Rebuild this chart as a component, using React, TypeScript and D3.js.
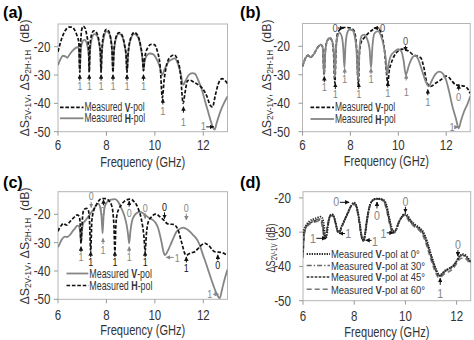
import React from 'react';
import * as d3 from 'd3';

type Pt = [number, number];
type Arrow = [number, number, number, number, string];
type Lbl = [number, number, string, string];

const xTicks = [6, 8, 10, 12];
const yTicks = [-20, -30, -40, -50];

// ---------- Panel (a) ----------
const aVpol: Pt[] = [[6.0,-21.8],[6.15,-17.2],[6.3,-14.3],[6.45,-13.1],[6.56,-13.1],[6.68,-14],[6.78,-16],[6.86,-18.5],[6.9,-29],[6.94,-18],[6.98,-14],[7.04,-12.8],[7.12,-13.5],[7.2,-16.5],[7.26,-20],[7.29,-29],[7.32,-20],[7.38,-16],[7.48,-14.4],[7.6,-15.2],[7.7,-18.5],[7.75,-22],[7.78,-29],[7.81,-22],[7.88,-16],[8.0,-13.9],[8.1,-14.6],[8.18,-17.5],[8.23,-21.5],[8.27,-29],[8.31,-21.5],[8.4,-16.5],[8.52,-15],[8.65,-16],[8.75,-19.5],[8.81,-23],[8.85,-29],[8.89,-23],[9.0,-17],[9.15,-15],[9.3,-16.2],[9.42,-20],[9.49,-24],[9.53,-28.5],[9.58,-24],[9.7,-20.5],[9.85,-19.2],[9.98,-19.3],[10.1,-21.5],[10.22,-27],[10.31,-38],[10.38,-32],[10.5,-26],[10.65,-23.5],[10.8,-22.9],[10.93,-24.5],[11.05,-29],[11.17,-40],[11.25,-36],[11.35,-32],[11.45,-31.8],[11.6,-32.5],[11.75,-33.2],[11.95,-34.6],[12.15,-37.5],[12.28,-40.6],[12.38,-41.3],[12.5,-37],[12.65,-32.5],[12.78,-31.3],[12.9,-32],[13.0,-33]];
const aHpol: Pt[] = [[6.0,-26.5],[6.1,-24.5],[6.2,-23.2],[6.3,-23.4],[6.38,-23.9],[6.5,-22.5],[6.65,-21],[6.8,-20.2],[6.86,-20.5],[6.9,-29],[6.94,-21],[7.0,-18.5],[7.08,-17.6],[7.15,-18],[7.22,-20],[7.27,-23],[7.29,-29],[7.32,-22],[7.4,-17],[7.5,-15.6],[7.6,-16],[7.7,-19],[7.75,-22.5],[7.78,-29],[7.81,-22.5],[7.9,-16.5],[8.0,-14.6],[8.1,-15.2],[8.2,-18],[8.24,-22],[8.27,-29],[8.31,-22],[8.4,-17],[8.52,-15.4],[8.65,-16.4],[8.76,-20],[8.82,-23.5],[8.85,-29],[8.89,-23.5],[9.0,-17.5],[9.15,-15.5],[9.3,-16.6],[9.42,-20.5],[9.49,-24.5],[9.53,-28.5],[9.58,-25],[9.68,-23],[9.8,-22.4],[9.92,-22.6],[10.05,-24],[10.2,-27],[10.3,-30],[10.4,-28],[10.55,-25.5],[10.7,-24.5],[10.82,-24.1],[10.95,-26],[11.08,-30],[11.17,-33.5],[11.27,-32],[11.4,-30],[11.55,-29.3],[11.65,-29.5],[11.8,-32],[11.95,-35.5],[12.06,-38.8],[12.2,-43],[12.3,-46],[12.4,-48.5],[12.47,-49.3],[12.55,-47],[12.7,-43],[12.85,-40],[13.0,-37.6]];
const aArrows: Arrow[] = [[6.9,-32,6.9,-29.9,'k'],[7.29,-32,7.29,-29.9,'k'],[7.78,-32,7.78,-29.9,'k'],[8.27,-32,8.27,-29.9,'k'],[8.85,-32,8.85,-29.9,'k'],[9.53,-32,9.53,-29.9,'k'],[10.33,-40.4,10.33,-38.4,'k'],[11.18,-43.3,11.18,-41.2,'k'],[12.12,-48.3,12.43,-48.3,'k']];
const aLabels: Lbl[] = [[6.9,-33.9,'1','g'],[7.29,-33.9,'1','g'],[7.78,-33.9,'1','g'],[8.27,-33.9,'1','g'],[8.85,-33.9,'1','g'],[9.53,-33.9,'1','g'],[10.33,-42.9,'1','g'],[11.18,-46.5,'1','g'],[12.0,-47.9,'1','g']];

// ---------- Panel (b) ----------
const bHpol: Pt[] = [[6.0,-27.1],[6.13,-24.1],[6.23,-23.2],[6.34,-23.9],[6.48,-22.7],[6.62,-20.6],[6.76,-19.4],[6.84,-20.2],[6.9,-30],[6.96,-21],[7.05,-17.8],[7.15,-17.1],[7.25,-18.5],[7.31,-22],[7.35,-31],[7.39,-22],[7.45,-17],[7.55,-15.3],[7.65,-17],[7.7,-20.5],[7.75,-27.6],[7.79,-20.5],[7.86,-15.5],[7.96,-14.1],[8.08,-14.3],[8.18,-16.5],[8.25,-21],[8.32,-32],[8.38,-21],[8.46,-16.5],[8.57,-15.9],[8.7,-17.5],[8.8,-21],[8.86,-27.6],[8.92,-20],[9.0,-15.5],[9.15,-14.7],[9.28,-16.5],[9.38,-19.5],[9.47,-24],[9.54,-30],[9.6,-26],[9.68,-23.5],[9.85,-21.8],[10.0,-21],[10.13,-21.8],[10.22,-25],[10.31,-30],[10.45,-26.5],[10.6,-23.8],[10.7,-23.3],[10.8,-24],[11.0,-28.8],[11.15,-32.5],[11.27,-34.1],[11.4,-32],[11.55,-29.8],[11.7,-28.9],[11.85,-29.5],[12.0,-32],[12.12,-35.9],[12.26,-41.2],[12.4,-45.3],[12.52,-48.8],[12.62,-46],[12.74,-43],[12.9,-40],[13.0,-37.6]];
const bVpol: Pt[] = [[6.0,-27.1],[6.13,-24.1],[6.23,-23.2],[6.34,-23.9],[6.48,-22.7],[6.62,-20.6],[6.76,-19.4],[6.84,-20.2],[6.9,-30],[6.96,-21],[7.05,-17.8],[7.15,-17.1],[7.24,-18.5],[7.3,-23],[7.35,-33],[7.4,-21],[7.45,-16],[7.55,-14.2],[7.7,-13.4],[7.85,-13.4],[8.0,-13.6],[8.12,-14.2],[8.2,-16],[8.26,-21],[8.33,-33.5],[8.38,-22],[8.45,-18.5],[8.57,-17.1],[8.75,-15.4],[8.95,-14.1],[9.1,-13.5],[9.25,-14.7],[9.35,-17.5],[9.43,-22],[9.5,-28.8],[9.56,-33],[9.62,-28.5],[9.7,-26],[9.82,-23.5],[10.0,-21.6],[10.15,-21],[10.3,-21.3],[10.45,-21.8],[10.6,-22.9],[10.8,-23.5],[10.94,-24.1],[11.07,-27.6],[11.2,-33],[11.35,-34.1],[11.55,-33],[11.77,-31.8],[12.0,-30.5],[12.1,-30.8],[12.2,-31.8],[12.4,-33.5],[12.6,-33.8],[12.8,-34.1],[12.9,-35],[13.0,-36.5]];
const bArrows: Arrow[] = [[6.91,-32.6,6.91,-30.6,'k'],[7.37,-35,7.37,-33,'k'],[7.76,-29.8,7.76,-27.8,'g'],[8.35,-35,8.35,-33,'k'],[8.86,-29.8,8.86,-27.8,'g'],[9.56,-34.5,9.56,-32.5,'k'],[10.33,-32,10.33,-30,'g'],[11.23,-37.2,11.23,-35.2,'k'],[12.52,-35.5,12.52,-33.5,'k'],[12.35,-48.4,12.5,-48.4,'g'],[7.47,-13.6,7.72,-13.6,'k'],[9.22,-13.6,8.98,-13.6,'k'],[10.3,-19.8,10.3,-21.6,'k']];
const bLabels: Lbl[] = [[6.91,-34.3,'1','g'],[7.37,-36.7,'1','g'],[7.76,-31.7,'1','g'],[8.35,-36.7,'1','g'],[8.86,-31.7,'1','g'],[9.56,-36.5,'1','g'],[10.33,-36,'1','g'],[11.23,-39.6,'1','g'],[12.52,-37.8,'0','g'],[12.24,-48.4,'1','g'],[7.36,-13.8,'0','d'],[9.34,-13.8,'0','d'],[10.3,-18.2,'0','d']];

// ---------- Panel (c) ----------
const cVpol: Pt[] = [[6.0,-31.5],[6.05,-30.8],[6.15,-29],[6.22,-28.2],[6.3,-27.9],[6.38,-28],[6.49,-27.3],[6.6,-26],[6.7,-25],[6.8,-24],[6.88,-24.5],[6.92,-27],[6.95,-30.2],[6.99,-26],[7.04,-23.2],[7.15,-22],[7.25,-20.8],[7.35,-19.6],[7.46,-18.4],[7.56,-17],[7.66,-16.2],[7.74,-17.5],[7.8,-21],[7.84,-26.7],[7.88,-21],[7.94,-17],[8.05,-15.5],[8.2,-14.8],[8.35,-14.6],[8.48,-15.5],[8.6,-17.5],[8.72,-20],[8.84,-24],[8.9,-27.5],[8.94,-30.2],[8.99,-26],[9.05,-22.6],[9.15,-20.5],[9.24,-19.6],[9.38,-19.1],[9.5,-19.5],[9.6,-20.2],[9.79,-21.4],[9.92,-22],[10.03,-23],[10.14,-25],[10.27,-29.6],[10.35,-33],[10.41,-34.4],[10.48,-33.8],[10.55,-32.6],[10.66,-30.5],[10.76,-28.5],[10.86,-26.6],[10.96,-25.5],[11.08,-24.9],[11.17,-24.7],[11.27,-25],[11.37,-25.5],[11.48,-26.4],[11.58,-27.3],[11.7,-28.4],[11.79,-29.6],[11.9,-32],[11.99,-34.4],[12.1,-37],[12.2,-39.6],[12.3,-42.2],[12.41,-44.9],[12.52,-47.5],[12.61,-49],[12.68,-49.6],[12.75,-47.5],[12.82,-44.9],[12.9,-42.3],[13.0,-39.5]];
const cHpol: Pt[] = [[6.0,-26],[6.05,-25],[6.15,-23.8],[6.22,-23.2],[6.3,-23.6],[6.36,-23.8],[6.49,-22.6],[6.6,-21.6],[6.7,-20.8],[6.8,-20.2],[6.88,-20.8],[6.92,-24],[6.95,-30.2],[6.99,-24],[7.04,-19.1],[7.12,-18],[7.18,-17.9],[7.25,-18.5],[7.3,-22],[7.35,-33],[7.4,-22],[7.46,-19.1],[7.56,-17],[7.66,-15.5],[7.76,-14.6],[7.87,-14.4],[8.0,-14.5],[8.1,-15.2],[8.2,-16.5],[8.27,-19.5],[8.31,-24],[8.35,-33],[8.39,-24],[8.44,-20],[8.53,-17.8],[8.63,-16.4],[8.74,-15.4],[8.86,-14.8],[8.96,-14.6],[9.05,-14.8],[9.15,-15.6],[9.24,-16.6],[9.33,-18.4],[9.41,-20.5],[9.5,-24.5],[9.55,-28],[9.6,-33],[9.65,-27],[9.73,-22.6],[9.83,-21.2],[9.93,-20.3],[10.02,-19.9],[10.1,-20.1],[10.2,-20.8],[10.3,-21.5],[10.4,-22.3],[10.5,-23.2],[10.62,-23.5],[10.72,-23.5],[10.82,-23.8],[10.9,-24.5],[10.98,-26],[11.06,-28.5],[11.14,-31],[11.22,-33.5],[11.3,-34.4],[11.4,-34],[11.5,-33.6],[11.65,-33.2],[11.76,-32.3],[11.86,-31.4],[11.96,-30.6],[12.06,-30.2],[12.16,-30.6],[12.27,-31.4],[12.37,-32.5],[12.47,-33.2],[12.6,-33.3],[12.7,-33.4],[12.8,-33.6],[12.9,-34],[13.0,-34.4]];
const cArrows: Arrow[] = [[6.95,-33.4,6.95,-31.4,'k'],[7.35,-35.1,7.35,-33.2,'k'],[7.86,-30.5,7.86,-28.5,'g'],[8.35,-35.1,8.35,-33.2,'k'],[8.94,-33.4,8.94,-31.4,'g'],[9.6,-35.1,9.6,-33.2,'k'],[10.78,-35.2,10.47,-35.2,'g'],[11.3,-37,11.3,-35,'k'],[12.6,-36.2,12.6,-34.3,'k'],[12.4,-48.2,12.63,-48.2,'g'],[7.37,-15.6,7.37,-17.6,'g'],[7.88,-16.8,7.88,-14.8,'k'],[8.94,-17.3,8.94,-15.3,'k'],[9.6,-19.6,9.6,-21.5,'g'],[10.4,-19.3,10.4,-21.5,'k'],[11.3,-19.8,11.3,-22,'g']];
const cLabels: Lbl[] = [[6.95,-35.2,'1','g'],[7.35,-36.8,'1','k'],[7.86,-32.5,'1','g'],[8.35,-36.8,'1','k'],[8.94,-35.2,'1','g'],[9.6,-36.8,'1','k'],[10.92,-35.6,'1','g'],[11.3,-39.2,'1','k'],[12.6,-38.1,'0','k'],[12.27,-48.2,'1','g'],[7.37,-13.7,'0','g'],[7.84,-18.8,'0','g'],[8.94,-19.6,'0','g'],[9.6,-17.7,'0','g'],[10.4,-17.4,'0','k'],[11.3,-17.7,'0','g']];

// ---------- Panel (d) ----------
const d0: Pt[] = [[6.0,-31],[6.04,-29.2],[6.12,-28],[6.25,-26.8],[6.4,-26.2],[6.55,-25.8],[6.68,-25.5],[6.76,-26],[6.82,-28],[6.87,-31.3],[6.92,-31.5],[6.97,-28.5],[7.04,-25.6],[7.12,-24.8],[7.2,-25.4],[7.28,-27.4],[7.35,-29.6],[7.42,-29.8],[7.5,-28.4],[7.62,-26.5],[7.75,-24.5],[7.88,-22.4],[7.98,-21.4],[8.06,-21.8],[8.14,-23.8],[8.22,-27.5],[8.3,-31.5],[8.37,-32.4],[8.43,-30.5],[8.5,-26.5],[8.6,-22.5],[8.72,-20.7],[8.88,-20.2],[9.05,-20.3],[9.18,-20.8],[9.27,-22.3],[9.36,-25.5],[9.46,-28.6],[9.56,-29.8],[9.64,-29.2],[9.74,-27.2],[9.86,-25.5],[9.97,-24.6],[10.07,-25],[10.2,-26.5],[10.38,-27.8],[10.55,-28.7],[10.7,-30],[10.84,-32.5],[10.98,-36],[11.1,-38.8],[11.22,-41.2],[11.33,-42.6],[11.42,-42.2],[11.55,-41.2],[11.72,-40.5],[11.9,-39.6],[12.02,-38.2],[12.12,-37],[12.24,-36.4],[12.36,-36.8],[12.47,-37.8],[12.55,-38.6]];
const d30: Pt[] = [[6.0,-34],[6.05,-30],[6.14,-28.3],[6.28,-27.2],[6.42,-26.6],[6.56,-26.3],[6.66,-26.2],[6.74,-27],[6.8,-29.5],[6.85,-31.8],[6.9,-31.2],[6.96,-28],[7.05,-25.3],[7.14,-24.6],[7.22,-25.8],[7.3,-28.2],[7.38,-30.2],[7.45,-29.6],[7.54,-28],[7.66,-26],[7.78,-24],[7.9,-22.2],[8.0,-21.6],[8.08,-22.4],[8.16,-25],[8.24,-28.8],[8.32,-32],[8.38,-32.6],[8.45,-29.6],[8.53,-25.5],[8.63,-21.9],[8.76,-20.5],[8.92,-20.3],[9.08,-20.5],[9.2,-21.3],[9.3,-23.6],[9.4,-27],[9.5,-29.4],[9.6,-30],[9.68,-28.5],[9.78,-26.6],[9.9,-25.3],[10.0,-25],[10.1,-25.6],[10.25,-27.2],[10.42,-28.3],[10.58,-29.3],[10.72,-30.8],[10.86,-33.4],[11.0,-36.8],[11.12,-39.6],[11.24,-41.8],[11.35,-42.9],[11.46,-42],[11.6,-41.2],[11.78,-40.2],[11.95,-39],[12.06,-37.6],[12.16,-36.8],[12.28,-36.6],[12.4,-37.4],[12.5,-38.4],[12.55,-39]];
const d45: Pt[] = [[6.0,-36],[6.04,-31],[6.1,-28.8],[6.22,-27.6],[6.36,-27],[6.5,-26.6],[6.62,-26.4],[6.72,-26.6],[6.78,-28.5],[6.83,-31.5],[6.88,-31.8],[6.94,-29],[7.02,-26],[7.1,-25],[7.18,-25.2],[7.26,-27],[7.33,-29.3],[7.4,-30.4],[7.48,-29],[7.6,-26.8],[7.72,-24.8],[7.85,-22.7],[7.96,-21.7],[8.04,-21.9],[8.12,-23.6],[8.2,-27],[8.28,-31],[8.35,-32.6],[8.41,-31],[8.48,-27.2],[8.58,-23],[8.7,-20.9],[8.85,-20.3],[9.02,-20.4],[9.15,-20.9],[9.25,-22.4],[9.34,-25.5],[9.44,-28.8],[9.54,-30.2],[9.62,-29.5],[9.72,-27.5],[9.84,-25.8],[9.95,-24.9],[10.05,-25.3],[10.18,-26.8],[10.35,-28],[10.52,-28.9],[10.68,-30.2],[10.82,-32.8],[10.96,-36.2],[11.08,-39],[11.2,-41.4],[11.31,-42.8],[11.4,-42.5],[11.52,-41.5],[11.7,-40.8],[11.88,-39.8],[12.0,-38.5],[12.1,-37.3],[12.22,-36.8],[12.34,-37],[12.46,-38],[12.55,-38.8]];
const d60: Pt[] = [[6.0,-37.5],[6.03,-33],[6.08,-29.5],[6.18,-28.2],[6.32,-27.4],[6.46,-27],[6.6,-26.8],[6.7,-27],[6.77,-29],[6.82,-31.5],[6.86,-32],[6.92,-30],[7.0,-26.8],[7.08,-25.3],[7.16,-25.2],[7.24,-26.6],[7.32,-29],[7.39,-30.6],[7.47,-29.6],[7.58,-27.4],[7.7,-25.2],[7.83,-23],[7.94,-22],[8.02,-22],[8.1,-23.3],[8.18,-26.5],[8.26,-30.4],[8.33,-32.6],[8.4,-31.6],[8.47,-27.8],[8.56,-23.6],[8.68,-21.2],[8.83,-20.4],[9.0,-20.4],[9.13,-21],[9.23,-22.6],[9.33,-25.8],[9.43,-29],[9.52,-30.4],[9.6,-29.8],[9.7,-27.8],[9.82,-26],[9.93,-25.2],[10.03,-25.5],[10.16,-27],[10.32,-28.2],[10.5,-29.2],[10.66,-30.6],[10.8,-33.2],[10.94,-36.6],[11.06,-39.4],[11.18,-41.8],[11.3,-43.2],[11.4,-43],[11.52,-42.2],[11.68,-41.6],[11.86,-40.6],[11.98,-39.4],[12.08,-38.2],[12.2,-37.6],[12.32,-37.6],[12.44,-38.4],[12.55,-39.4]];
const dArrows: Arrow[] = [[7.44,-21.3,7.8,-21.3,'k'],[8.89,-23.1,8.89,-21.2,'k'],[6.52,-31.8,6.9,-31.8,'k'],[7.64,-30.4,7.42,-30.4,'k'],[8.68,-32.4,8.45,-32.4,'k'],[9.27,-30.2,9.53,-30.2,'k'],[10.0,-22.6,10.0,-24.3,'k'],[11.36,-45.4,11.36,-43.4,'k'],[12.05,-35.2,12.05,-37,'k']];
const dLabels: Lbl[] = [[7.3,-21,'0','g'],[8.89,-25.1,'0','g'],[6.39,-31.8,'1','g'],[7.77,-30.4,'1','g'],[8.81,-32.5,'1','g'],[9.14,-30.2,'1','g'],[10.0,-21.0,'0','g'],[11.36,-47.8,'1','g'],[12.05,-33.5,'0','g']];

const FONT = '"Liberation Sans", Arial, Helvetica, sans-serif';
const BLACK = '#111';
const GRAY = '#858585';
const DARK = '#555';
const colorOf = (k: string) => (k === 'k' ? BLACK : k === 'g' ? GRAY : DARK);

interface Series { data: Pt[]; stroke: string; dash?: string; width: number }
interface LegendItem { stroke: string; dash?: string; width: number; pre: string; bold: string; post: string }
interface PanelCfg {
  id: string; tag: string; tagX: number; tagY: number;
  left: number; right: number; top: number; bottom: number;
  xDomain: [number, number]; yDomain: [number, number];
  series: Series[]; arrows: Arrow[]; labels: Lbl[]; labelSize: number;
  legend: LegendItem[]; legX0: number; legX1: number; legRows: number[]; legSize: number; legScale: number;
  yLabelFull: boolean; yLabX: number; yLabY: number; yLabAlong: number;
  yTickGap: number; xTickOff: number; xLabelOff: number;
}

const T = (p: { x: number; y: number; sx?: number; size: number; anchor?: string; fill?: string; weight?: string; children: React.ReactNode }) => (
  <text transform={`translate(${p.x},${p.y}) scale(${p.sx ?? 0.85},1)`} fontSize={p.size} textAnchor={p.anchor ?? 'middle'}
    fill={p.fill ?? '#222'} fontWeight={p.weight} dominantBaseline="central">{p.children}</text>
);

function Panel({ c }: { c: PanelCfg }) {
  const x = d3.scaleLinear().domain(c.xDomain).range([c.left, c.right]);
  const y = d3.scaleLinear().domain(c.yDomain).range([c.bottom, c.top]);
  const line = d3.line<Pt>().x(d => x(d[0])).y(d => y(d[1])).curve(d3.curveMonotoneX);
  const sub = 8.6;
  return (
    <g>
      <defs>
        <clipPath id={`clip-${c.id}`}><rect x={c.left} y={c.top} width={c.right - c.left} height={c.bottom - c.top} /></clipPath>
      </defs>
      <rect x={c.left} y={c.top} width={c.right - c.left} height={c.bottom - c.top} fill="none" stroke="#b5b5b5" strokeWidth={1} />
      {yTicks.map(t => (
        <g key={`y${t}`}>
          <line x1={c.left - 4} x2={c.left} y1={y(t)} y2={y(t)} stroke="#999" />
          <T x={c.left - c.yTickGap} y={y(t)} size={14.5} sx={0.8} anchor="end" fill="#333">{String(t)}</T>
        </g>
      ))}
      {xTicks.map(t => (
        <g key={`x${t}`}>
          <line x1={x(t)} x2={x(t)} y1={c.bottom} y2={c.bottom + 4} stroke="#999" />
          <T x={x(t)} y={c.bottom + c.xTickOff} size={14} sx={0.82} fill="#333">{String(t)}</T>
        </g>
      ))}
      <T x={(c.left + c.right) / 2} y={c.bottom + c.xLabelOff} size={15} sx={0.74} fill="#333">Frequency (GHz)</T>
      <text transform={`translate(${c.yLabX},${c.yLabY}) rotate(-90) scale(${c.yLabAlong},1)`} fontSize={12.8} textAnchor="middle" fill="#333">
        {c.yLabelFull ? (
          <>ΔS<tspan fontSize={sub} dy={2.6}>2V-1V</tspan><tspan dy={-2.6}>, ΔS</tspan><tspan fontSize={sub} dy={2.6}>2H-1H</tspan><tspan dy={-2.6}>{'\u00a0 (dB)'}</tspan></>
        ) : (
          <>ΔS<tspan fontSize={sub} dy={2.6}>2V-1V</tspan><tspan dy={-2.6}>{' (dB)'}</tspan></>
        )}
      </text>
      <T x={c.tagX} y={c.tagY} size={16.5} anchor="start" fill="#000" weight="bold" sx={0.98}>{c.tag}</T>
      <g clipPath={`url(#clip-${c.id})`}>
        {c.series.map((s, i) => (
          <path key={i} d={line(s.data) ?? ''} fill="none" stroke={s.stroke} strokeWidth={s.width} strokeDasharray={s.dash} strokeLinejoin="round" />
        ))}
      </g>
      {c.legend.map((l, i) => (
        <g key={`l${i}`}>
          <line x1={c.legX0} x2={c.legX1} y1={c.legRows[i]} y2={c.legRows[i]} stroke={l.stroke} strokeWidth={l.width} strokeDasharray={l.dash} />
          <T x={c.legX1 + 1} y={c.legRows[i]} size={c.legSize} sx={c.legScale} anchor="start" fill="#333">
            {l.pre}<tspan fontWeight="bold">{l.bold}</tspan>{l.post}
          </T>
        </g>
      ))}
      {c.arrows.map((a, i) => (
        <line key={`a${i}`} x1={x(a[0])} y1={y(a[1])} x2={x(a[2])} y2={y(a[3])} stroke={colorOf(a[4])} strokeWidth={1}
          markerEnd={`url(#ah-${a[4]})`} />
      ))}
      <g opacity={0.995}>
        {c.labels.map((l, i) => (
          <T key={`t${i}`} x={x(l[0])} y={y(l[1])} size={c.labelSize} sx={0.85} fill={colorOf(l[3])}>{l[2]}</T>
        ))}
      </g>
    </g>
  );
}

const legV = { pre: 'Measured ', bold: 'V', post: '-pol' };
const legH = { pre: 'Measured ', bold: 'H', post: '-pol' };
const DASH = '3.6,1.8';

const panels: PanelCfg[] = [
  {
    id: 'a', tag: '(a)', tagX: 3, tagY: 11.5, left: 58, right: 227.5, top: 24, bottom: 131.7,
    xDomain: [6, 13], yDomain: [-50, -12],
    series: [
      { data: aHpol, stroke: GRAY, width: 1.8 },
      { data: aVpol, stroke: BLACK, dash: DASH, width: 1.7 },
    ],
    arrows: aArrows, labels: aLabels, labelSize: 11,
    legend: [
      { stroke: BLACK, dash: DASH, width: 1.7, ...legV },
      { stroke: GRAY, width: 1.8, ...legH },
    ],
    legX0: 60, legX1: 83.5, legRows: [107.3, 118.3], legSize: 12, legScale: 0.71,
    yLabelFull: true, yLabX: 28.5, yLabY: 78, yLabAlong: 0.97,
    yTickGap: 7.5, xTickOff: 13.6, xLabelOff: 30,
  },
  {
    id: 'b', tag: '(b)', tagX: 240, tagY: 11.5, left: 302.5, right: 470.2, top: 23.5, bottom: 131.7,
    xDomain: [6, 13], yDomain: [-50, -12],
    series: [
      { data: bVpol, stroke: BLACK, dash: DASH, width: 1.7 },
      { data: bHpol, stroke: GRAY, width: 1.8 },
    ],
    arrows: bArrows, labels: bLabels, labelSize: 11,
    legend: [
      { stroke: BLACK, dash: DASH, width: 1.7, ...legV },
      { stroke: GRAY, width: 1.8, ...legH },
    ],
    legX0: 310.5, legX1: 334, legRows: [107.3, 119], legSize: 12, legScale: 0.71,
    yLabelFull: true, yLabX: 270.5, yLabY: 78, yLabAlong: 0.97,
    yTickGap: 12.5, xTickOff: 13.6, xLabelOff: 29.5,
  },
  {
    id: 'c', tag: '(c)', tagX: 3, tagY: 181.5, left: 58, right: 227.5, top: 191.7, bottom: 299.3,
    xDomain: [6, 13], yDomain: [-50, -12],
    series: [
      { data: cVpol, stroke: GRAY, width: 1.8 },
      { data: cHpol, stroke: BLACK, dash: DASH, width: 1.7 },
    ],
    arrows: cArrows, labels: cLabels, labelSize: 10.5,
    legend: [
      { stroke: GRAY, width: 1.8, ...legV },
      { stroke: BLACK, dash: DASH, width: 1.7, ...legH },
    ],
    legX0: 66.5, legX1: 88.3, legRows: [273.5, 285.5], legSize: 12, legScale: 0.74,
    yLabelFull: true, yLabX: 28.5, yLabY: 246, yLabAlong: 0.97,
    yTickGap: 7.5, xTickOff: 16, xLabelOff: 31,
  },
  {
    id: 'd', tag: '(d)', tagX: 240, tagY: 181.5, left: 303, right: 470.7, top: 191.7, bottom: 300.7,
    xDomain: [6, 12.55], yDomain: [-50, -18.2],
    series: [
      { data: d60, stroke: '#777', dash: '5,3', width: 1.6 },
      { data: d45, stroke: '#333', dash: '2.6,1.4', width: 1.6 },
      { data: d30, stroke: '#666', dash: '5,2,1.4,2', width: 1.6 },
      { data: d0, stroke: '#222', dash: '1.3,1.2', width: 1.8 },
    ],
    arrows: dArrows, labels: dLabels, labelSize: 12.5,
    legend: [
      { stroke: '#222', dash: '1.3,1.2', width: 1.8, pre: 'Measured ', bold: 'V', post: '-pol at 0°' },
      { stroke: '#666', dash: '5,2,1.4,2', width: 1.6, pre: 'Measured ', bold: 'V', post: '-pol at 30°' },
      { stroke: '#333', dash: '2.6,1.4', width: 1.6, pre: 'Measured ', bold: 'V', post: '-pol at 45°' },
      { stroke: '#777', dash: '5,3', width: 1.6, pre: 'Measured ', bold: 'V', post: '-pol at 60°' },
    ],
    legX0: 306.7, legX1: 330, legRows: [254, 265.5, 277, 289.3], legSize: 11.8, legScale: 0.8,
    yLabelFull: false, yLabX: 274.5, yLabY: 248, yLabAlong: 0.72,
    yTickGap: 12, xTickOff: 15.5, xLabelOff: 31,
  },
];

export default function App() {
  return (
    <svg width={474} height={340} viewBox="0 0 474 340" style={{ position: 'absolute', left: 0, top: 0, background: '#fff' }}
      fontFamily={FONT}>
      <defs>
        {['k', 'g', 'd'].map(k => (
          <marker key={k} id={`ah-${k}`} viewBox="0 0 10 10" refX={9} refY={5} markerWidth={4.5} markerHeight={4.5}
            markerUnits="userSpaceOnUse" orient="auto">
            <path d="M0,0 L10,5 L0,10 z" fill={colorOf(k)} />
          </marker>
        ))}
      </defs>
      <rect x={0} y={0} width={474} height={340} fill="#fff" />
      {panels.map(p => <Panel key={p.id} c={p} />)}
    </svg>
  );
}
